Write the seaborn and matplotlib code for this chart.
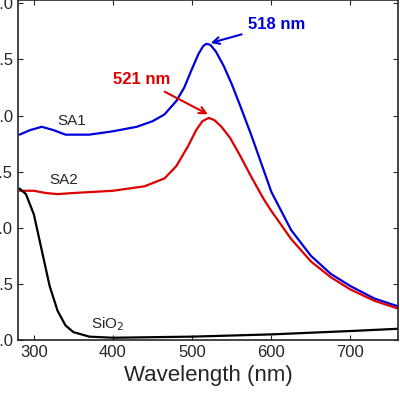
import matplotlib
matplotlib.use("Agg")
import matplotlib.pyplot as plt
import seaborn as sns
import pandas as pd

sns.set_style("ticks")
plt.rcParams['font.family'] = ['Liberation Sans', 'DejaVu Sans']

wl_sa1 = [282, 295, 310, 325, 340, 370, 400, 430, 450, 465, 480, 490, 500, 508, 514, 518, 523, 530, 540, 550, 560, 575, 590, 600, 625, 650, 675, 700, 730, 760]
sa1 = [1.83, 1.87, 1.9, 1.87, 1.83, 1.83, 1.86, 1.9, 1.95, 2.01, 2.13, 2.25, 2.42, 2.55, 2.62, 2.64, 2.63, 2.57, 2.44, 2.28, 2.1, 1.82, 1.52, 1.32, 0.98, 0.75, 0.59, 0.48, 0.37, 0.3]
wl_sa2 = [282, 300, 315, 330, 350, 400, 440, 465, 480, 495, 505, 513, 521, 528, 537, 548, 560, 575, 590, 600, 625, 650, 675, 700, 730, 760]
sa2 = [1.33, 1.33, 1.31, 1.3, 1.31, 1.33, 1.37, 1.44, 1.55, 1.73, 1.87, 1.95, 1.98, 1.96, 1.9, 1.8, 1.65, 1.45, 1.26, 1.15, 0.9, 0.7, 0.56, 0.45, 0.35, 0.28]
wl_sio2 = [282, 290, 300, 310, 320, 330, 340, 350, 370, 400, 450, 500, 550, 600, 650, 700, 760]
sio2 = [1.35, 1.3, 1.12, 0.8, 0.48, 0.26, 0.13, 0.07, 0.03, 0.02, 0.025, 0.03, 0.04, 0.05, 0.065, 0.08, 0.1]

fig = plt.figure(figsize=(4, 4), dpi=100)
ax = fig.add_axes([18/400, 60/400, 380/400, 340/400])
sns.lineplot(data=pd.DataFrame({"x": wl_sa1, "y": sa1}), x="x", y="y", color="#0000dd", lw=1.6, ax=ax)
sns.lineplot(data=pd.DataFrame({"x": wl_sa2, "y": sa2}), x="x", y="y", color="#dd0000", lw=1.6, ax=ax)
sns.lineplot(data=pd.DataFrame({"x": wl_sio2, "y": sio2}), x="x", y="y", color="black", lw=1.6, ax=ax)
ax.set_xlim(280, 760)
ax.set_ylim(0, 3.03)
ax.set_xticks([300, 400, 500, 600, 700])
ax.set_yticks([0, 0.5, 1.0, 1.5, 2.0, 2.5, 3.0])
ax.set_yticklabels(["0.0", "0.5", "1.0", "1.5", "2.0", "2.5", "3.0"])
ax.tick_params(direction="in", labelsize=12, top=True, right=True)
ax.set_xlabel("Wavelength (nm)", fontsize=16)
ax.set_ylabel("")
for s in ax.spines.values():
    s.set_linewidth(1.2)
ax.annotate("518 nm", xy=(520, 2.64), xytext=(570, 2.77), color="#0000dd", fontsize=12, fontweight="bold",
            arrowprops=dict(arrowstyle="->", color="#0000dd", lw=1.5))
ax.annotate("521 nm", xy=(523, 2.0), xytext=(400, 2.28), color="#dd0000", fontsize=12, fontweight="bold",
            arrowprops=dict(arrowstyle="->", color="#dd0000", lw=1.5))
ax.text(330, 1.92, "SA1", fontsize=11)
ax.text(320, 1.39, "SA2", fontsize=11)
ax.text(372, 0.1, "SiO$_2$", fontsize=11)
fig.savefig("out.png", dpi=100)
